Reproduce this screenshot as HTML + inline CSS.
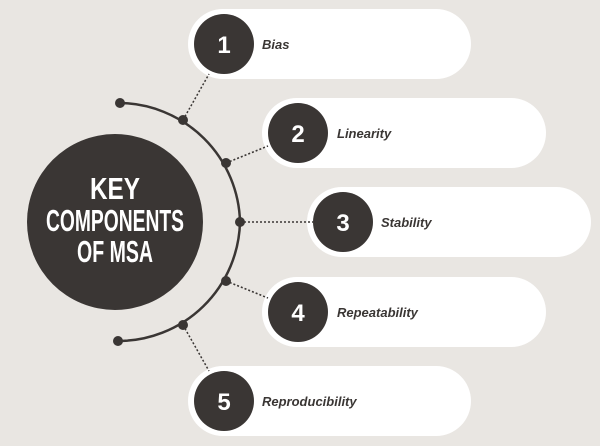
<!DOCTYPE html>
<html><head><meta charset="utf-8"><style>
html,body{margin:0;padding:0;background:#e9e6e2;}
svg{display:block;}
</style></head><body>
<svg width="600" height="446" viewBox="0 0 600 446" xmlns="http://www.w3.org/2000/svg">
<rect width="600" height="446" fill="#e9e6e2"/>
<g fill="#ffffff">
<rect x="188" y="9" width="283" height="70" rx="35"/>
<rect x="262" y="98" width="284" height="70" rx="35"/>
<rect x="307" y="187" width="284" height="70" rx="35"/>
<rect x="262" y="277" width="284" height="70" rx="35"/>
<rect x="188" y="366" width="283" height="70" rx="35"/>
</g>
<g stroke="#3a3634" stroke-width="1.5" stroke-dasharray="2,2" fill="none">
<line x1="183" y1="120" x2="209" y2="74"/>
<line x1="226" y1="163" x2="268" y2="146"/>
<line x1="240" y1="222" x2="313" y2="222"/>
<line x1="226" y1="281" x2="268" y2="298"/>
<line x1="183" y1="325" x2="209" y2="371"/>
</g>
<path d="M120,103 A122,122 0 0 1 240,222 A122,122 0 0 1 118,341" stroke="#3a3634" stroke-width="2.5" fill="none"/>
<g fill="#3a3634">
<circle cx="120" cy="103" r="5"/>
<circle cx="183" cy="120" r="5"/>
<circle cx="226" cy="163" r="5"/>
<circle cx="240" cy="222" r="5"/>
<circle cx="226" cy="281" r="5"/>
<circle cx="183" cy="325" r="5"/>
<circle cx="118" cy="341" r="5"/>
<circle cx="115" cy="222" r="88"/>
<circle cx="224" cy="44" r="30"/>
<circle cx="298" cy="133" r="30"/>
<circle cx="343" cy="222" r="30"/>
<circle cx="298" cy="312" r="30"/>
<circle cx="224" cy="401" r="30"/>
</g>
<g fill="#ffffff" font-family="Liberation Sans Narrow, Liberation Sans, sans-serif" font-weight="bold" text-anchor="middle">
<text x="115" y="199" font-size="31" textLength="50" lengthAdjust="spacingAndGlyphs">KEY</text>
<text x="115" y="231" font-size="31" textLength="138" lengthAdjust="spacingAndGlyphs">COMPONENTS</text>
<text x="115" y="262" font-size="31" textLength="76" lengthAdjust="spacingAndGlyphs">OF MSA</text>
<text x="224" y="53" font-size="24">1</text>
<text x="298" y="142" font-size="24">2</text>
<text x="343" y="231" font-size="24">3</text>
<text x="298" y="321" font-size="24">4</text>
<text x="224" y="410" font-size="24">5</text>
</g>
<g fill="#3a3634" font-family="Liberation Sans, sans-serif" font-style="italic" font-weight="bold" font-size="13">
<text x="262" y="49">Bias</text>
<text x="337" y="138">Linearity</text>
<text x="381" y="227">Stability</text>
<text x="337" y="317">Repeatability</text>
<text x="262" y="406">Reproducibility</text>
</g>
</svg>
</body></html>
